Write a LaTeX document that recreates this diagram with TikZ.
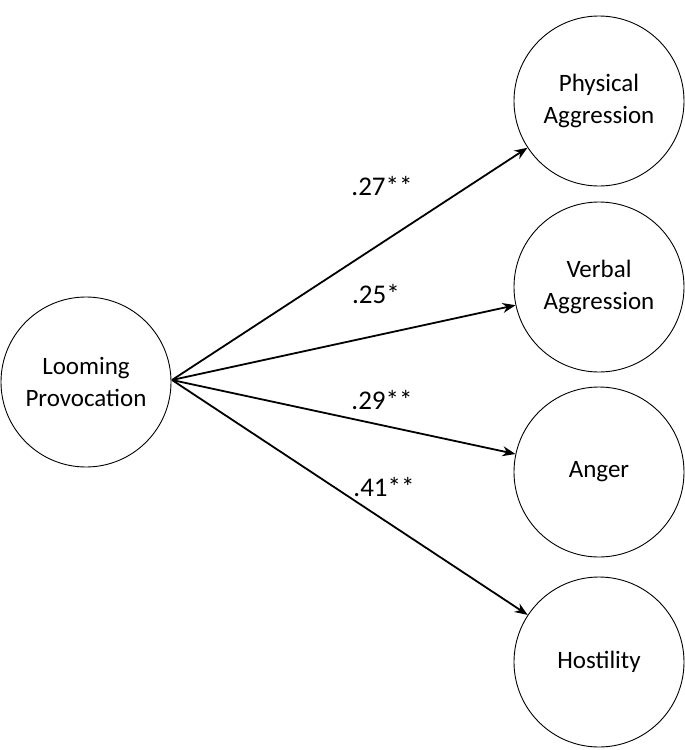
\documentclass[tikz,border=0pt]{standalone}
\usepackage{fontspec}
\setmainfont{Carlito}
\usetikzlibrary{arrows.meta}
\begin{document}
\begin{tikzpicture}[x=1pt,y=-1pt,
  circ/.style={draw,circle,minimum size=170pt,inner sep=0pt,align=center,font=\fontsize{25}{32}\selectfont,line width=0.9pt},
  arr/.style={-{Stealth[length=13pt,width=10pt]},line width=1.8pt},
  lab/.style={font=\fontsize{27}{30}\selectfont}]
\useasboundingbox (0,0) rectangle (685,750);
\node[circ] (L) at (86,382) {Looming\\Provocation};
\node[circ] (P) at (599,101) {Physical\\Aggression};
\node[circ] (V) at (599,287) {Verbal\\Aggression};
\node[circ] (A) at (599,472) {Anger};
\node[circ] (H) at (599,662) {Hostility};
\coordinate (s) at (172,380);
\draw[arr] (s) -- (P);
\draw[arr] (s) -- (V);
\draw[arr] (s) -- (A);
\draw[arr] (s) -- (H);
\node[lab] at (382,186) {.27**};
\node[lab] at (376,294) {.25*};
\node[lab] at (382,400) {.29**};
\node[lab] at (384,487) {.41**};
\end{tikzpicture}
\end{document}
